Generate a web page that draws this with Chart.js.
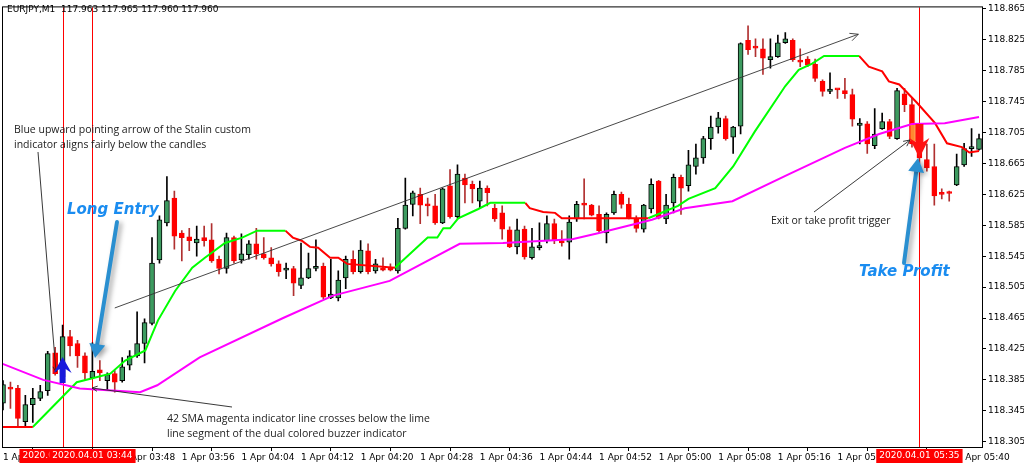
<!DOCTYPE html>
<html><head><meta charset="utf-8">
<script src="https://cdn.jsdelivr.net/npm/chart.js@4.4.1/dist/chart.umd.min.js"></script>
<style>html,body{margin:0;padding:0;background:#fff;}#w{width:1024px;height:465px;}</style>
</head><body><div id="w"><canvas id="c" width="1024" height="465"></canvas></div>
<script>
const opens=[118.355,118.375,118.374,118.331,118.353,118.361,118.371,118.420,118.389,118.441,118.432,118.416,118.388,118.398,118.384,118.393,118.384,118.404,118.416,118.432,118.458,118.540,118.588,118.620,118.575,118.570,118.562,118.569,118.566,118.541,118.529,118.569,118.540,118.547,118.561,118.548,118.543,118.535,118.527,118.529,118.507,118.517,118.529,118.532,118.491,118.491,118.517,118.541,118.525,118.552,118.526,118.530,118.530,118.526,118.581,118.612,118.625,118.612,118.610,118.588,118.636,118.596,118.646,118.638,118.616,118.633,118.607,118.601,118.579,118.557,118.580,118.543,118.556,118.565,118.587,118.565,118.563,118.593,118.612,118.611,118.599,118.575,118.601,118.625,118.612,118.594,118.580,118.606,118.642,118.593,118.614,118.647,118.636,118.661,118.672,118.697,118.712,118.723,118.699,118.713,118.824,118.815,118.813,118.799,118.803,118.821,118.824,118.797,118.800,118.793,118.771,118.758,118.761,118.759,118.754,118.714,118.716,118.688,118.710,118.719,118.697,118.755,118.741,118.690,118.670,118.661,118.626,118.627,118.637,118.663,118.684,118.683];
const highs=[118.384,118.382,118.378,118.365,118.374,118.378,118.422,118.427,118.456,118.449,118.436,118.420,118.433,118.410,118.394,118.397,118.414,118.423,118.473,118.464,118.569,118.597,118.648,118.629,118.578,118.581,118.584,118.584,118.587,118.545,118.575,118.571,118.574,118.565,118.581,118.569,118.556,118.539,118.536,118.532,118.562,118.549,118.566,118.536,118.541,118.526,118.545,118.552,118.565,118.561,118.541,118.543,118.535,118.594,118.646,118.629,118.633,118.620,118.625,118.633,118.657,118.663,118.651,118.642,118.642,118.636,118.612,118.610,118.583,118.593,118.584,118.581,118.588,118.597,118.593,118.578,118.597,118.616,118.645,118.612,118.610,118.601,118.629,118.628,118.620,118.597,118.612,118.645,118.643,118.625,118.651,118.650,118.682,118.690,118.700,118.726,118.731,118.726,118.713,118.821,118.843,118.826,118.826,118.826,118.831,118.834,118.826,118.813,118.803,118.800,118.773,118.782,118.761,118.775,118.761,118.723,118.719,118.736,118.730,118.722,118.762,118.762,118.749,118.710,118.690,118.690,118.632,118.629,118.677,118.691,118.710,118.703];
const lows=[118.346,118.348,118.324,118.324,118.330,118.358,118.365,118.391,118.382,118.416,118.401,118.384,118.387,118.384,118.371,118.369,118.382,118.398,118.414,118.407,118.456,118.536,118.584,118.554,118.539,118.552,118.545,118.558,118.537,118.522,118.523,118.536,118.536,118.541,118.541,118.541,118.532,118.519,118.516,118.494,118.503,118.516,118.526,118.490,118.490,118.487,118.503,118.522,118.523,118.522,118.523,118.526,118.526,118.523,118.580,118.597,118.587,118.597,118.586,118.587,118.594,118.594,118.614,118.614,118.607,118.610,118.590,118.567,118.556,118.548,118.541,118.541,118.553,118.562,118.561,118.558,118.541,118.590,118.593,118.597,118.576,118.562,118.599,118.607,118.593,118.576,118.576,118.601,118.593,118.587,118.601,118.599,118.629,118.651,118.665,118.683,118.704,118.695,118.678,118.703,118.806,118.803,118.780,118.788,118.802,118.820,118.797,118.790,118.790,118.771,118.752,118.755,118.749,118.749,118.713,118.690,118.678,118.684,118.709,118.697,118.696,118.732,118.686,118.665,118.655,118.611,118.619,118.616,118.636,118.661,118.674,118.682];
const closes=[118.379,118.373,118.335,118.353,118.361,118.370,118.419,118.393,118.441,118.429,118.416,118.394,118.396,118.394,118.392,118.382,118.402,118.416,118.432,118.459,118.536,118.592,118.617,118.571,118.569,118.565,118.567,118.565,118.539,118.529,118.569,118.539,118.548,118.561,118.548,118.543,118.535,118.525,118.529,118.510,118.517,118.529,118.532,118.492,118.496,118.514,118.541,118.525,118.553,118.525,118.535,118.527,118.527,118.581,118.611,118.627,118.611,118.610,118.588,118.632,118.596,118.651,118.637,118.632,118.633,118.627,118.593,118.580,118.557,118.579,118.544,118.557,118.557,118.587,118.565,118.562,118.589,118.612,118.611,118.598,118.578,118.599,118.625,118.612,118.594,118.581,118.611,118.638,118.594,118.611,118.647,118.633,118.663,118.672,118.697,118.712,118.724,118.697,118.712,118.820,118.812,118.814,118.801,118.803,118.821,118.826,118.799,118.796,118.792,118.775,118.758,118.761,118.760,118.755,118.722,118.717,118.690,118.703,118.719,118.700,118.759,118.741,118.690,118.672,118.659,118.623,118.625,118.626,118.661,118.684,118.685,118.697];
// buzzer line segments [index, price]
const buzzRed1=[[0,118.324],[4,118.324]];
const buzzGreen1=[[4,118.324],[9.9,118.382],[12,118.387],[14.4,118.393],[16.4,118.410],[19.1,118.423],[20.8,118.462],[23.1,118.500],[25.4,118.530],[27.1,118.543],[29.8,118.562],[32.1,118.569],[34.1,118.578],[37.9,118.578]];
const buzzRed2=[[37.9,118.578],[38.9,118.569],[40.1,118.565],[41.2,118.557],[42.3,118.556],[43.9,118.543],[45,118.543],[46.2,118.535],[52.6,118.530]];
const buzzGreen2=[[52.6,118.530],[57,118.569],[58.3,118.569],[59.1,118.581],[60,118.581],[61.1,118.594],[63.8,118.606],[65.4,118.614],[70.1,118.614]];
const buzzRed3=[[70.1,118.614],[70.7,118.607],[72.5,118.602],[74.1,118.601],[75,118.594],[86.6,118.594]];
const buzzGreen3=[[86.6,118.594],[90.6,118.610],[92,118.619],[95.6,118.633],[98,118.661],[100.9,118.706],[105,118.765],[106.8,118.786],[108.6,118.794],[110.2,118.804],[114.9,118.804]];
const buzzRed4=[[114.9,118.804],[116.2,118.790],[118,118.784],[118.9,118.771],[120.3,118.767],[122.7,118.743],[125.1,118.717],[126.7,118.691],[128.7,118.686],[129.7,118.679],[131,118.681]];
const sma42=[[-0.4,118.407],[5.4,118.385],[10.3,118.374],[18.4,118.369],[20.7,118.378],[26.4,118.414],[37.6,118.465],[44.3,118.494],[51.9,118.513],[61.3,118.561],[67.1,118.562],[76.4,118.567],[80,118.575],[87.1,118.592],[91.5,118.607],[97.9,118.616],[105.5,118.651],[113,118.685],[117.6,118.703],[122,118.716],[126.4,118.717],[131,118.725]];
const yTicks=[118.305,118.345,118.385,118.425,118.465,118.505,118.545,118.585,118.625,118.665,118.705,118.745,118.785,118.825,118.865];
const xTickIdx=[0,8,16,24,32,40,48,56,64,72,80,88,96,104,112,120,128];
const xTickLabels=["1 Apr 03:32","1 Apr 03:40","1 Apr 03:48","1 Apr 03:56","1 Apr 04:04","1 Apr 04:12","1 Apr 04:20","1 Apr 04:28","1 Apr 04:36","1 Apr 04:44","1 Apr 04:52","1 Apr 05:00","1 Apr 05:08","1 Apr 05:16","1 Apr 05:24","1 Apr 05:32","1 Apr 05:40"];
const vLines=[[8,"2020.04.01 03:40"],[12,"2020.04.01 03:44"],[123,"2020.04.01 05:35"]];
const trendLine=[[15,118.478],[114.8,118.832]];

const idx=opens.map((_,i)=>i);
const bull=idx.map(i=>closes[i]>=opens[i]);
const pts=a=>a.map(p=>({x:p[0],y:p[1]}));
const lineDs=(d,c,w)=>({type:'line',data:pts(d),borderColor:c,borderWidth:w,pointRadius:0,tension:0,order:0});

function arrow(ctx,x1,y1,x2,y2,color,w,head){
  ctx.save();ctx.strokeStyle=color;ctx.lineWidth=w;ctx.beginPath();ctx.moveTo(x1,y1);ctx.lineTo(x2,y2);ctx.stroke();
  const a=Math.atan2(y2-y1,x2-x1);
  ctx.beginPath();ctx.moveTo(x2-head*Math.cos(a-0.45),y2-head*Math.sin(a-0.45));ctx.lineTo(x2,y2);ctx.lineTo(x2-head*Math.cos(a+0.45),y2-head*Math.sin(a+0.45));ctx.stroke();ctx.restore();
}
function fatArrow(ctx,x1,y1,x2,y2,color){
  ctx.save();ctx.shadowColor='rgba(0,0,0,0.35)';ctx.shadowBlur=5;ctx.shadowOffsetX=3;ctx.shadowOffsetY=2;
  ctx.strokeStyle=color;ctx.fillStyle=color;ctx.lineWidth=4;ctx.lineCap='round';
  const a=Math.atan2(y2-y1,x2-x1);const hx=x2-14*Math.cos(a),hy=y2-14*Math.sin(a);
  ctx.beginPath();ctx.moveTo(x1,y1);ctx.lineTo(hx,hy);ctx.stroke();
  ctx.beginPath();ctx.moveTo(x2,y2);ctx.lineTo(hx+8*Math.cos(a+Math.PI/2),hy+8*Math.sin(a+Math.PI/2));ctx.lineTo(hx+8*Math.cos(a-Math.PI/2),hy+8*Math.sin(a-Math.PI/2));ctx.closePath();ctx.fill();ctx.restore();
}

const deco={id:'deco',
 beforeDatasetsDraw(ch){const {ctx,chartArea:a,scales:{x}}=ch;ctx.save();ctx.strokeStyle='#ff0000';ctx.lineWidth=1;
   vLines.forEach(v=>{const px=Math.round(x.getPixelForValue(v[0]))+0.5;ctx.beginPath();ctx.moveTo(px,a.top);ctx.lineTo(px,a.bottom);ctx.stroke();});ctx.restore();},
 afterDatasetsDraw(ch){const {ctx,chartArea:a,scales:{x,y}}=ch;
   // trend arrow
   arrow(ctx,x.getPixelForValue(trendLine[0][0]),y.getPixelForValue(trendLine[0][1]),x.getPixelForValue(trendLine[1][0]),y.getPixelForValue(trendLine[1][1]),'#333',0.9,9);
   // callout lines
   arrow(ctx,38,152,56,372,'#222',0.9,6);
   arrow(ctx,232,407,92,388,'#222',0.9,6);
   arrow(ctx,814,212,910,140,'#222',0.9,7);
   // blue arrows
   fatArrow(ctx,117,222,95,358,'#2a8fd0');
   fatArrow(ctx,904,263,918,158,'#2a8fd0');
   // Stalin up arrow
   ctx.save();ctx.fillStyle='#1a1adc';const ux=x.getPixelForValue(8);
   ctx.beginPath();ctx.moveTo(ux,357);ctx.lineTo(ux+9,373);ctx.lineTo(ux+3,369);ctx.lineTo(ux+3,383);ctx.lineTo(ux-3,383);ctx.lineTo(ux-3,369);ctx.lineTo(ux-9,373);ctx.closePath();ctx.fill();
   // down arrow
   const dx=x.getPixelForValue(123);ctx.fillStyle='rgba(255,170,60,0.8)';ctx.fillRect(dx-9,125,8,16);
   ctx.fillStyle='#ff1010';ctx.beginPath();ctx.moveTo(dx,158);ctx.lineTo(dx+10,138);ctx.lineTo(dx+4,142);ctx.lineTo(dx+4,124);ctx.lineTo(dx-4,124);ctx.lineTo(dx-4,142);ctx.lineTo(dx-10,138);ctx.closePath();ctx.fill();ctx.restore();
   // texts
   ctx.save();ctx.fillStyle='#222';ctx.font='10.5px "Open Sans", "DejaVu Sans", sans-serif';ctx.textBaseline='middle';
   ctx.fillText('Blue upward pointing arrow of the Stalin custom',14,130);
   ctx.fillText('indicator aligns fairly below the candles',14,145);
   ctx.fillText('Exit or take profit trigger',771,221);
   ctx.fillText('42 SMA magenta indicator line crosses below the lime',167,419);
   ctx.fillText('line segment of the dual colored buzzer indicator',167,434);
   ctx.fillStyle='#1a8cf0';ctx.font='italic bold 15px "DejaVu Sans", sans-serif';
   ctx.fillText('Long Entry',67,210);ctx.fillText('Take Profit',859,272);
   ctx.fillStyle='#000';ctx.font='9px "DejaVu Sans", sans-serif';
   ctx.fillText('EURJPY,M1  117.963 117.965 117.960 117.960',7,10);
   ctx.restore();},
 afterDraw(ch){const {ctx,chartArea:a,scales:{x}}=ch;ctx.save();
   ctx.strokeStyle='#000';ctx.lineWidth=1;ctx.strokeRect(a.left-0.5,a.top-0.5,a.right-a.left+1,a.bottom-a.top+1);
   ctx.font='9px "DejaVu Sans", sans-serif';ctx.textBaseline='middle';ctx.textAlign='center';
   vLines.forEach(v=>{const px=x.getPixelForValue(v[0]);const w=ctx.measureText(v[1]).width+6;ctx.fillStyle='#ff0000';ctx.fillRect(px-w/2,a.bottom+2,w,14);ctx.fillStyle='#fff';ctx.fillText(v[1],px,a.bottom+9);});
   ctx.restore();}
};

new Chart(document.getElementById('c'),{
 type:'bar',
 data:{datasets:[
  lineDs(sma42,'#ff00ff',2),
  lineDs(buzzRed1,'#ff0000',2),lineDs(buzzGreen1,'#00ff00',2),lineDs(buzzRed2,'#ff0000',2),lineDs(buzzGreen2,'#00ff00',2),
  lineDs(buzzRed3,'#ff0000',2),lineDs(buzzGreen3,'#00ff00',2),lineDs(buzzRed4,'#ff0000',2),
  {type:'bar',data:idx.map(i=>({x:i,y:[opens[i],closes[i]]})),backgroundColor:idx.map(i=>bull[i]?'#3d9b60':'#ff0000'),borderColor:idx.map(i=>bull[i]?'#000':'#ff0000'),borderWidth:1,borderSkipped:false,barThickness:5,minBarLength:2,grouped:false,order:1},
  {type:'bar',data:idx.map(i=>({x:i,y:[lows[i],highs[i]]})),backgroundColor:idx.map(i=>bull[i]?'#000':'#b03030'),barThickness:1,grouped:false,order:2}
 ]},
 options:{responsive:false,animation:false,devicePixelRatio:1,
  layout:{padding:{left:3,top:6,right:0,bottom:0}},
  plugins:{legend:{display:false},tooltip:{enabled:false}},
  scales:{
   x:{type:'linear',min:0,max:131.4,offset:false,
      afterBuildTicks:s=>{s.ticks=xTickIdx.map(v=>({value:v}));},
      afterFit:s=>{s.height=18;},
      grid:{drawOnChartArea:false,drawTicks:true,tickLength:4,color:'#000'},border:{display:false},
      ticks:{autoSkip:false,maxRotation:0,align:'start',padding:1,color:'#000',font:{size:9,family:'"DejaVu Sans", sans-serif'},callback:(v)=>xTickLabels[xTickIdx.indexOf(v)]}},
   y:{position:'right',min:118.2982,max:118.8667,
      afterBuildTicks:s=>{s.ticks=yTicks.map(v=>({value:v}));},
      afterFit:s=>{s.width=42;},
      grid:{drawOnChartArea:false,drawTicks:true,tickLength:4,color:'#000'},border:{display:false},
      ticks:{padding:2,color:'#000',font:{size:9,family:'"DejaVu Sans", sans-serif'},callback:v=>v.toFixed(3)}}
  }},
 plugins:[deco]
});
</script></body></html>
